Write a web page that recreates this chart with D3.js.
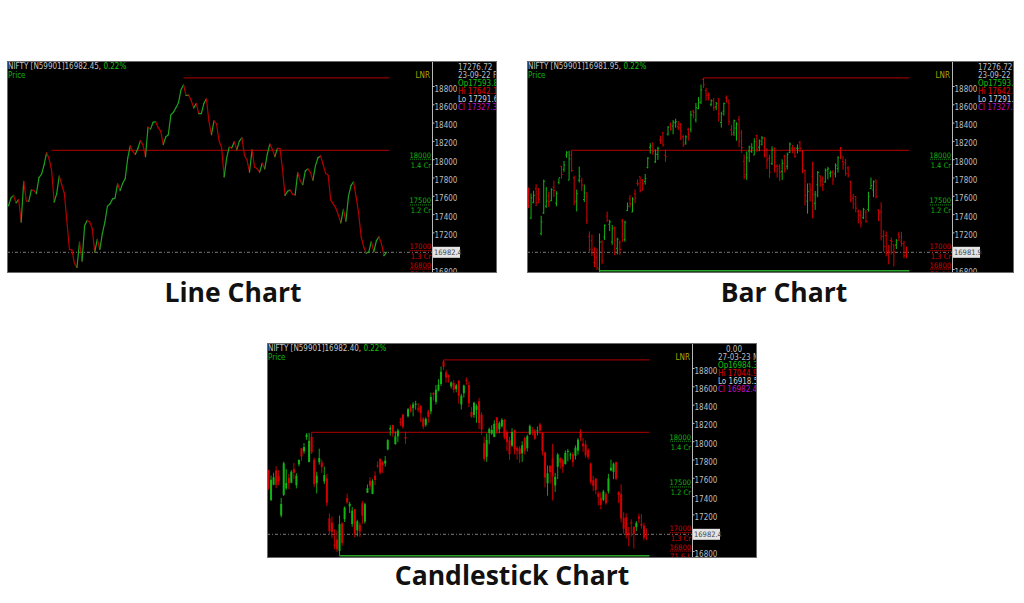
<!DOCTYPE html>
<html><head><meta charset="utf-8">
<script src="https://cdn.jsdelivr.net/npm/d3@7"></script>
<style>
body{margin:0;background:#fff}
.sm{font-family:"Liberation Sans Narrow","DejaVu Sans Condensed","Liberation Sans",sans-serif;font-size:8px}
.vp{font-family:"Liberation Sans Narrow","DejaVu Sans Condensed","Liberation Sans",sans-serif;font-size:7.5px}
</style></head><body>
<svg id="c" width="1024" height="603"></svg>
<script>
// ---- data (NIFTY daily, 22-08-22 .. 27-03-23) ----
const dates = ["22-08-22","23-08-22","24-08-22","25-08-22","26-08-22","29-08-22","30-08-22",
"01-09-22","02-09-22","05-09-22","06-09-22","07-09-22","08-09-22","09-09-22","12-09-22","13-09-22","14-09-22","15-09-22","16-09-22","19-09-22","20-09-22","21-09-22","22-09-22","23-09-22","26-09-22","27-09-22","28-09-22","29-09-22","30-09-22",
"03-10-22","04-10-22","06-10-22","07-10-22","10-10-22","11-10-22","12-10-22","13-10-22","14-10-22","17-10-22","18-10-22","19-10-22","20-10-22","21-10-22","24-10-22","25-10-22","27-10-22","28-10-22","31-10-22",
"01-11-22","02-11-22","03-11-22","04-11-22","07-11-22","09-11-22","10-11-22","11-11-22","14-11-22","15-11-22","16-11-22","17-11-22","18-11-22","21-11-22","22-11-22","23-11-22","24-11-22","25-11-22","28-11-22","29-11-22","30-11-22",
"01-12-22","02-12-22","05-12-22","06-12-22","07-12-22","08-12-22","09-12-22","12-12-22","13-12-22","14-12-22","15-12-22","16-12-22","19-12-22","20-12-22","21-12-22","22-12-22","23-12-22","26-12-22","27-12-22","28-12-22","29-12-22","30-12-22",
"02-01-23","03-01-23","04-01-23","05-01-23","06-01-23","09-01-23","10-01-23","11-01-23","12-01-23","13-01-23","16-01-23","17-01-23","18-01-23","19-01-23","20-01-23","23-01-23","24-01-23","25-01-23","27-01-23","30-01-23","31-01-23",
"01-02-23","02-02-23","03-02-23","06-02-23","07-02-23","08-02-23","09-02-23","10-02-23","13-02-23","14-02-23","15-02-23","16-02-23","17-02-23","20-02-23","21-02-23","22-02-23","23-02-23","24-02-23","27-02-23","28-02-23",
"01-03-23","02-03-23","03-03-23","06-03-23","08-03-23","09-03-23","10-03-23","13-03-23","14-03-23","15-03-23","16-03-23","17-03-23","20-03-23","21-03-23","22-03-23","23-03-23","24-03-23","27-03-23"];
const open = [17682,17357,17525,17679,17619,17189,17414,
17486,17598,17546,17695,17519,17748,17923,17890,18045,17771,18046,17797,17541,17770,17767,17560,17594,17156,17110,16871,16926,16799,
17102,17148,17379,17288,17095,17256,17026,17087,17322,17122,17438,17568,17423,17622,17736,17808,17772,17756,17910,
18130,18178,17969,18054,18211,18289,18045,18273,18376,18362,18398,18358,18382,18246,18179,18326,18326,18528,18430,18553,18625,
18871,18752,18719,18600,18638,18570,18662,18402,18525,18671,18614,18319,18288,18340,18435,18288,17977,17830,18089,18084,18045,18260,
18131,18163,18231,18101,18009,17952,18121,17924,17920,17867,18034,17922,18074,18119,18115,18119,18183,18094,17877,17541,17731,
17812,17517,17721,17818,17790,17750,17885,17847,17859,17840,17897,18094,17975,17965,17905,17755,17574,17591,17429,17383,
17360,17421,17452,17680,17665,17773,17443,17421,17160,17166,16994,17111,17066,17061,17177,17097,17077,16984];
const high = [17690,17625,17655,17727,17685,17380,17777,
17695,17644,17683,17764,17650,17792,17925,17980,18088,18092,18096,17820,17667,17919,17798,17723,17642,17211,17176,17037,17027,17188,
17114,17287,17428,17337,17281,17262,17142,17112,17348,17328,17527,17607,17584,17670,17778,17811,17783,17838,18022,
18175,18178,18107,18136,18255,18297,18104,18362,18399,18427,18442,18417,18394,18262,18261,18345,18529,18534,18614,18678,18816,
18888,18781,18728,18654,18668,18625,18664,18518,18618,18697,18652,18374,18432,18404,18473,18318,18050,18084,18149,18174,18229,18265,
18216,18252,18243,18120,18048,18141,18127,17944,17945,17999,18049,18072,18183,18155,18133,18162,18201,18096,17884,17735,17736,
17972,17653,17871,17823,17811,17899,17916,17876,17880,17954,18034,18134,18034,18005,17924,17766,17621,17599,17451,17441,
17468,17445,17644,17799,17767,17776,17451,17529,17224,17211,17062,17146,17066,17127,17207,17205,17109,17045];
const low = [17467,17345,17519,17487,17520,17167,17401,
17468,17476,17541,17587,17485,17726,17786,17861,18015,17771,17861,17497,17429,17744,17654,17532,17292,16979,16943,16820,16789,16747,
16856,17117,17316,17214,17064,16950,16960,16956,17097,17099,17434,17472,17421,17520,17707,17637,17654,17722,17899,
18060,18048,17960,17992,18167,18137,17970,18259,18311,18272,18344,18318,18209,18133,18158,18202,18294,18445,18402,18546,18603,
18778,18640,18640,18577,18528,18535,18410,18346,18477,18617,18372,18256,18255,18202,18132,18069,17780,17774,17968,18069,18045,18080,
18087,18150,18020,17893,17796,17936,17856,17800,17761,17774,17854,17887,18067,18063,18016,18063,18078,17846,17494,17405,17537,
17353,17446,17585,17699,17652,17744,17779,17801,17719,17800,17854,18000,17884,17818,17800,17529,17455,17421,17299,17255,
17345,17306,17427,17671,17585,17573,17324,17113,16988,16938,16851,16958,16828,17017,17106,17045,16918,16919];
const close = [17491,17578,17605,17523,17559,17313,17759,
17543,17539,17666,17656,17624,17798,17833,17936,18070,18004,17877,17531,17623,17816,17718,17630,17327,17016,17007,16858,16818,17094,
16887,17274,17331,17315,17241,16984,17124,17014,17186,17312,17486,17512,17564,17576,17731,17656,17737,17787,18012,
18145,18083,18053,18117,18203,18157,18028,18350,18329,18403,18410,18344,18308,18160,18244,18267,18484,18512,18563,18618,18758,
18813,18696,18701,18642,18561,18609,18497,18497,18608,18660,18415,18269,18420,18385,18199,18127,17807,18015,18132,18123,18191,18105,
18197,18233,18043,17992,17859,18101,17914,17896,17858,17956,17895,18053,18165,18108,18028,18119,18118,17892,17604,17649,17662,
17616,17610,17854,17765,17722,17872,17894,17856,17771,17930,18016,18036,17944,17845,17826,17555,17512,17466,17392,17304,
17451,17322,17594,17711,17754,17590,17413,17154,17043,16972,16985,17100,16988,17108,17152,17077,16945,16982];

// price-scale labels (17000 sits under the last-price box in the reference, so it is not printed)
const yTicks = [16800,17200,17400,17600,17800,18000,18200,18400,18600,18800];
const vpLevels = [18000,17500,17000,16800];
const vpVolumes = ["1.4 Cr","1.2 Cr","1.3 Cr","71.6 L"];
const vpUp = [true,true,false,false];
const headerPrices = ["16982.45","16981.95","16982.40"];
const changePct = "0.22%";
const lastPrice = 16982.4;
const lastBoxes = ["16982.4","16981.9","16982.4"];
const infoLine = ["17276.72","23-09-22 Fri","Op17593.85","Hi 17642.15","Lo 17291.65","Cl 17327.35"];
const infoCandle = ["0.00","27-03-23 Mo","Op16984.30","Hi 17044.90","Lo 16918.55","Cl 16982.40"];
const titles = ["Line Chart","Bar Chart","Candlestick Chart"];

// ---- drawing ----
const GREEN = "#13b313", RED = "#d40000", LGREEN = "#1f9f1f", LRED = "#b30000";
const svg = d3.select("#c");
const panels = [
  {type:"line",   x:7,   y:61,  w:490, h:212, header:headerPrices[0], box:lastBoxes[0], info:infoLine,   title:titles[0], tx:233, ty:302},
  {type:"bar",    x:527, y:61,  w:487, h:212, header:headerPrices[1], box:lastBoxes[1], info:infoLine,   title:titles[1], tx:784, ty:302},
  {type:"candle", x:267, y:343, w:490, h:215, header:headerPrices[2], box:lastBoxes[2], info:infoCandle, title:titles[2], tx:512, ty:585}
];
const PW = 425;
const idx = d3.range(dates.length);

panels.forEach((p, k) => {
  const g = svg.append("g").attr("transform", `translate(${p.x},${p.y})`);
  const cid = "clipP" + k, pid = "clipA" + k;
  const defs = g.append("defs");
  defs.append("clipPath").attr("id", cid).append("rect").attr("width", p.w).attr("height", p.h);
  defs.append("clipPath").attr("id", pid).append("rect").attr("width", PW).attr("height", p.h);
  g.append("rect").attr("width", p.w).attr("height", p.h).attr("fill", "#000");
  const gc = g.append("g").attr("clip-path", `url(#${cid})`);
  const plot = gc.append("g").attr("clip-path", `url(#${pid})`);

  const x = d3.scalePoint().domain(dates).range([1.5, 379.5]);
  const y = d3.scaleLinear().domain([16800, 18800]).range([208, 25]);
  const X = i => x(dates[i]);

  // reference lines
  const maxHi = d3.max(high), iMax = high.indexOf(maxHi);
  const early = high.slice(0, 40), hi2 = d3.max(early), i2 = early.indexOf(hi2);
  const minLo = d3.min(low), iMin = low.indexOf(minLo);
  const xEnd = X(dates.length - 1) + 3;
  plot.append("line").attr("x1", X(iMax)).attr("x2", xEnd).attr("y1", y(maxHi)).attr("y2", y(maxHi))
    .attr("stroke", "#8e0000").attr("stroke-width", 1.2);
  plot.append("line").attr("x1", X(i2)).attr("x2", xEnd).attr("y1", y(hi2)).attr("y2", y(hi2))
    .attr("stroke", "#8e0000").attr("stroke-width", 1.2);
  if (p.type !== "line") {
    const yl = Math.min(y(minLo), p.h - 2.2);
    plot.append("line").attr("x1", X(iMin)).attr("x2", xEnd).attr("y1", yl).attr("y2", yl)
      .attr("stroke", "#2aa52a").attr("stroke-width", 1.6);
  }
  // current price dotted line
  plot.append("line").attr("x1", 0).attr("x2", PW).attr("y1", y(lastPrice)).attr("y2", y(lastPrice))
    .attr("stroke", "#9a9a9a").attr("stroke-width", 0.8).attr("stroke-dasharray", "3,2,1,2");

  if (p.type === "line") {
    plot.selectAll("line.seg").data(idx.slice(1)).join("line").attr("class", "seg")
      .attr("x1", i => X(i - 1)).attr("y1", i => y(close[i - 1]))
      .attr("x2", i => X(i)).attr("y2", i => y(close[i]))
      .attr("stroke", i => close[i] >= close[i - 1] ? LGREEN : LRED)
      .attr("stroke-width", 1.2).attr("stroke-linecap", "round");
  } else if (p.type === "bar") {
    const b = plot.selectAll("g.b").data(idx).join("g").attr("class", "b")
      .attr("stroke", i => close[i] >= open[i] ? GREEN : RED).attr("stroke-width", 1);
    b.append("line").attr("x1", i => X(i)).attr("x2", i => X(i)).attr("y1", i => y(high[i])).attr("y2", i => y(low[i]));
    b.append("line").attr("x1", i => X(i) - 1.2).attr("x2", i => X(i)).attr("y1", i => y(open[i])).attr("y2", i => y(open[i]));
    b.append("line").attr("x1", i => X(i)).attr("x2", i => X(i) + 1.2).attr("y1", i => y(close[i])).attr("y2", i => y(close[i]));
  } else {
    const c = plot.selectAll("g.c").data(idx).join("g").attr("class", "c");
    c.append("line").attr("x1", i => X(i)).attr("x2", i => X(i)).attr("y1", i => y(high[i])).attr("y2", i => y(low[i]))
      .attr("stroke", i => close[i] >= open[i] ? GREEN : RED).attr("stroke-width", 0.9);
    c.append("rect").attr("x", i => X(i) - 1).attr("width", 2)
      .attr("y", i => y(Math.max(open[i], close[i])))
      .attr("height", i => Math.max(1, Math.abs(y(open[i]) - y(close[i]))))
      .attr("fill", i => close[i] >= open[i] ? GREEN : RED);
  }

  // volume-profile labels near the price scale
  vpLevels.forEach((lv, j) => {
    const col = vpUp[j] ? "#12b312" : "#d20000";
    const yy = y(lv);
    plot.append("line").attr("x1", 403).attr("x2", PW).attr("y1", yy).attr("y2", yy)
      .attr("stroke", col).attr("stroke-width", 0.8).attr("stroke-dasharray", "1,1");
    plot.append("text").attr("class", "vp").attr("x", 424).attr("y", yy - 1.5).attr("text-anchor", "end")
      .attr("fill", col).text(lv);
    plot.append("text").attr("class", "vp").attr("x", 424).attr("y", yy + 8.3).attr("text-anchor", "end")
      .attr("fill", col).text(vpVolumes[j]);
  });
  plot.append("text").attr("class", "sm").attr("x", 423).attr("y", 17).attr("text-anchor", "end")
    .attr("fill", "#a8a800").text("LNR");

  // header
  const hd = gc.append("text").attr("class", "sm").attr("x", 1).attr("y", 8);
  hd.append("tspan").attr("fill", "#c4c4c4").text(`NIFTY [N59901]${p.header}, `);
  hd.append("tspan").attr("fill", "#11c011").text(` ${changePct}`);
  gc.append("text").attr("class", "sm").attr("x", 1).attr("y", 17).attr("fill", "#11b011").text("Price");

  // separator + axis
  gc.append("line").attr("x1", PW + 0.5).attr("x2", PW + 0.5).attr("y1", 0).attr("y2", p.h)
    .attr("stroke", "#b8b8b8").attr("stroke-width", 1);
  const ax = gc.append("g").attr("transform", `translate(${PW + 0.5},0)`)
    .call(d3.axisRight(y).tickValues(yTicks).tickSize(2).tickFormat(d3.format("d")));
  ax.select(".domain").remove();
  ax.selectAll("line").attr("stroke", "#bbb");
  ax.selectAll("text").attr("class", "sm").attr("fill", "#bdbdbd").attr("x", 2).attr("y", 2.5);
  ax.attr("font-size", null).attr("font-family", null);

  // last price box
  const yb = y(lastPrice);
  gc.append("rect").attr("x", PW + 1).attr("y", yb - 5.5).attr("width", 27).attr("height", 11).attr("fill", "#e4e4e4");
  gc.append("text").attr("class", "vp").attr("x", PW + 2).attr("y", yb + 3).attr("fill", "#444").text(p.box);

  // info column
  const infoCols = ["#bdbdbd", "#bdbdbd", "#11c011", "#e00000", "#cfcfcf", "#c010c0"];
  p.info.forEach((t, j) => {
    gc.append("text").attr("class", "sm").attr("x", j === 0 && p.type === "candle" ? 459 : 451).attr("y", 9 + j * 7.9)
      .attr("fill", infoCols[j]).text(t);
  });

  // border
  g.append("rect").attr("x", 0.5).attr("y", 0.5).attr("width", p.w - 1).attr("height", p.h - 1)
    .attr("fill", "none").attr("stroke", "#6a6a6a").attr("stroke-width", 1);

  // title
  svg.append("text").attr("x", p.tx).attr("y", p.ty).attr("text-anchor", "middle")
    .attr("font-family", "'Open Sans', 'Noto Sans', sans-serif").attr("font-weight", 700)
    .attr("font-size", 26.5).attr("fill", "#111").text(p.title);
});
</script>
</body></html>
